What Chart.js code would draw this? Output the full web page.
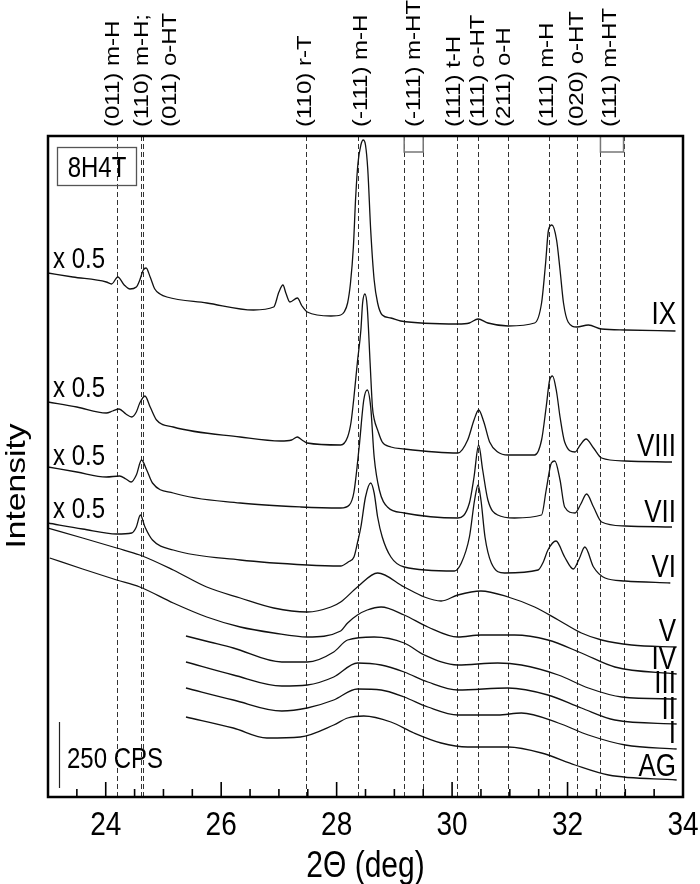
<!DOCTYPE html>
<html><head><meta charset="utf-8">
<script src="https://cdn.jsdelivr.net/npm/chart.js@4.4.0/dist/chart.umd.min.js"></script>
<style>html,body{margin:0;padding:0;background:#fff;}#wrap{width:700px;height:884px;position:relative;}</style>
</head><body><div id="wrap"><canvas id="c"></canvas></div>
<script>
// ---- data (2theta in deg, intensity in arbitrary units, offset traces) ----
const seriesNames = ["IX","VIII","VII","VI","V","IV","III","II","I","AG"];
const sIX = [[23.00,524],[23.43,520],[24.01,515],[24.10,513],[24.21,520],[24.32,512],[24.42,508],[24.53,510],[24.59,517],[24.65,527],[24.70,529],[24.77,520],[24.85,508],[24.94,503],[25.06,500],[25.75,494],[26.56,487],[26.91,490],[27.00,505],[27.07,512],[27.12,504],[27.19,495],[27.32,499],[27.40,491],[27.49,485],[27.90,481],[28.07,482],[28.13,485],[28.19,494],[28.24,514],[28.29,550],[28.33,600],[28.37,634],[28.42,652],[28.46,657],[28.50,652],[28.54,627],[28.59,567],[28.65,517],[28.71,494],[28.79,482],[28.94,479],[29.11,476],[30.10,473],[30.30,474],[30.45,478],[30.62,474],[30.97,471],[31.43,474],[31.55,494],[31.62,534],[31.67,567],[31.73,572],[31.81,557],[31.87,527],[31.93,494],[32.01,475],[32.16,470],[32.36,472],[32.59,468],[33.00,467],[33.87,466]];
const sVIII = [[23.00,395],[23.50,390],[24.01,384],[24.12,386],[24.23,388],[24.35,383],[24.45,380],[24.53,385],[24.59,394],[24.68,401],[24.77,390],[24.88,377],[25.17,370],[26.33,360],[27.03,356],[27.22,357],[27.32,360],[27.40,357],[27.49,354],[28.07,352],[28.19,360],[28.25,375],[28.30,400],[28.36,435],[28.42,467],[28.45,494],[28.49,503],[28.53,490],[28.58,434],[28.62,390],[28.65,378],[28.71,367],[28.79,355],[28.94,350],[29.17,348],[30.10,344],[30.27,357],[30.38,377],[30.46,387],[30.55,375],[30.65,355],[30.79,345],[30.97,342],[31.43,342],[31.55,357],[31.63,390],[31.69,417],[31.74,421],[31.81,405],[31.87,380],[31.95,355],[32.13,345],[32.22,352],[32.32,358],[32.45,349],[32.59,339],[33.00,336],[33.81,335]];
const sVII = [[23.00,330],[23.50,325],[24.01,320],[24.24,321],[24.35,318],[24.44,315],[24.53,322],[24.62,337],[24.71,327],[24.81,314],[25.17,304],[26.33,294],[27.38,290],[28.07,289],[28.22,292],[28.30,305],[28.39,350],[28.47,397],[28.53,407],[28.59,390],[28.65,340],[28.74,307],[28.88,290],[29.17,284],[30.10,279],[30.30,294],[30.38,320],[30.46,352],[30.53,327],[30.62,297],[30.79,282],[31.08,279],[31.55,282],[31.63,307],[31.72,334],[31.78,336],[31.87,317],[31.95,290],[32.13,284],[32.23,293],[32.33,303],[32.45,290],[32.59,275],[33.00,271],[33.81,270]];
const sVI = [[23.00,274],[23.60,268],[24.19,263],[24.45,264],[24.53,270],[24.60,282],[24.68,270],[24.81,257],[25.17,247],[26.33,237],[27.49,232],[28.07,231],[28.20,235],[28.30,240],[28.36,254],[28.42,270],[28.50,300],[28.59,314],[28.65,304],[28.71,280],[28.79,260],[28.94,240],[29.17,230],[30.04,226],[30.16,234],[30.30,260],[30.39,297],[30.45,312],[30.50,297],[30.57,260],[30.68,234],[30.91,224],[31.49,227],[31.58,235],[31.66,247],[31.80,256],[31.95,240],[32.10,228],[32.20,238],[32.30,250],[32.45,230],[32.65,219],[33.00,216],[33.78,214]];
const sV = [[23.00,269],[23.60,259],[24.19,249],[24.59,242],[25.17,227],[25.75,210],[26.33,199],[26.91,189],[27.49,185],[27.90,190],[28.07,195],[28.36,210],[28.71,224],[29.17,210],[29.52,200],[29.81,196],[30.10,202],[30.50,206],[30.97,200],[31.43,190],[31.84,177],[32.24,164],[32.59,157],[33.11,152],[33.89,150]];
const sIV = [[23.03,239],[23.60,228],[24.19,217],[24.59,210],[25.17,194],[25.75,180],[26.33,170],[26.91,164],[27.49,160],[28.07,166],[28.19,174],[28.36,182],[28.53,187],[28.77,190],[29.17,182],[29.58,170],[30.10,160],[30.50,162],[31.08,162],[31.66,157],[32.24,144],[32.82,130],[33.89,123]];
const sIII = [[25.39,161],[25.80,155],[26.21,149],[27.05,135],[27.49,135],[27.95,145],[28.19,157],[28.65,160],[29.17,154],[29.52,142],[30.10,132],[30.79,134],[31.20,132],[31.84,122],[32.36,109],[32.94,100],[33.89,98]];
const sII = [[25.39,135],[26.21,122],[27.05,111],[27.49,112],[27.95,120],[28.36,134],[28.77,132],[29.17,125],[29.58,115],[30.10,107],[30.97,109],[31.66,102],[32.24,89],[32.82,77],[33.89,73]];
const sI = [[25.39,109],[26.21,97],[27.05,86],[27.49,89],[27.95,97],[28.36,108],[28.77,107],[29.17,100],[29.58,90],[30.10,82],[30.79,82],[31.20,84],[31.84,74],[32.36,62],[33.00,52],[33.89,48]];
const sAG = [[25.39,80],[26.21,69],[26.79,59],[27.37,60],[27.95,72],[28.19,79],[28.47,81],[28.94,75],[29.34,64],[29.81,54],[30.27,50],[30.97,50],[31.55,44],[32.13,32],[32.71,22],[33.89,17]];
const seriesData = [sIX,sVIII,sVII,sVI,sV,sIV,sIII,sII,sI,sAG];

const tickValues = [24,26,28,30,32,34];
const minorStep = 0.5;
const refLines = [24.19,24.615,24.638,27.47,28.37,29.17,29.50,30.09,30.45,30.97,31.68,32.16,32.57,32.97];
const refBrackets = [[29.17,29.50],[32.57,32.97]];
const refLabels = ["(011) m-H","(110) m-H;","(011) o-HT","(110) r-T","(-111) m-H","(-111) m-HT","(111) t-H","(111) o-HT","(211) o-H","(111) m-H","(020) o-HT","(111) m-HT"];
const refLabelX = [24.14,24.63,25.13,27.46,28.43,29.34,30.05,30.46,30.91,31.66,32.17,32.75];
const factorLabels = ["x 0.5","x 0.5","x 0.5","x 0.5"];
const sampleText = "8H4T";
const scaleBarText = "250 CPS";
const scaleBarValue = 66;
const xTitle = "2\u0398 (deg)";
const yTitle = "Intensity";

// ---- layout ----
const FONT = '"Liberation Sans", Arial, Helvetica, sans-serif';
const romanY = [315,447,513,568,632,660,684,710,734,767];
const factorY = [268,397,465,518];
const VS = 1.2;

function txt(ctx, s, x, y, size, align, base, rot) {
  ctx.save();
  ctx.translate(x, y);
  if (rot) { ctx.rotate(-Math.PI/2); ctx.scale(VS, 1); } else { ctx.scale(1, VS); }
  ctx.font = size + 'px ' + FONT;
  ctx.textAlign = align; ctx.textBaseline = base; ctx.fillStyle = '#000';
  ctx.fillText(s, 0, 0);
  ctx.restore();
}

const decor = {
  id: 'decor',
  beforeDatasetsDraw(chart) {
    const ctx = chart.ctx, a = chart.chartArea, xs = chart.scales.x;
    ctx.save();
    ctx.strokeStyle = '#333'; ctx.lineWidth = 1; ctx.setLineDash([5,3]);
    refLines.forEach(v => {
      const px = Math.round(xs.getPixelForValue(v)) + 0.5;
      ctx.beginPath(); ctx.moveTo(px, a.top); ctx.lineTo(px, a.bottom); ctx.stroke();
    });
    ctx.setLineDash([]);
    ctx.strokeStyle = '#777'; ctx.lineWidth = 1.5;
    refBrackets.forEach(b => {
      const p1 = xs.getPixelForValue(b[0]), p2 = xs.getPixelForValue(b[1]);
      ctx.beginPath(); ctx.moveTo(p1, a.top); ctx.lineTo(p1, a.top + 16); ctx.lineTo(p2, a.top + 16); ctx.lineTo(p2, a.top); ctx.stroke();
    });
    ctx.restore();
  },
  afterDraw(chart) {
    const ctx = chart.ctx, a = chart.chartArea, xs = chart.scales.x, ys = chart.scales.y;
    ctx.save();
    // frame
    ctx.strokeStyle = '#000'; ctx.lineWidth = 2.5;
    ctx.strokeRect(a.left, a.top, a.right - a.left, a.bottom - a.top);
    // ticks
    ctx.lineWidth = 1.6;
    for (let v = xs.min + minorStep; v < xs.max; v += minorStep) {
      const px = xs.getPixelForValue(v);
      const major = tickValues.indexOf(Math.round(v * 10) / 10) >= 0;
      ctx.beginPath(); ctx.moveTo(px, a.bottom); ctx.lineTo(px, a.bottom - (major ? 15 : 8)); ctx.stroke();
    }
    tickValues.forEach(v => txt(ctx, String(v), xs.getPixelForValue(v), 835, 28, 'center', 'alphabetic', false));
    // titles
    txt(ctx, xTitle, (a.left + a.right) / 2, 877, 30, 'center', 'alphabetic', false);
    txt(ctx, yTitle, 17, 486, 28, 'center', 'middle', true);
    // reflection labels
    refLabels.forEach((s, i) => txt(ctx, s, xs.getPixelForValue(refLabelX[i]), 127, 20, 'left', 'middle', true));
    // sample box
    ctx.strokeStyle = '#555'; ctx.lineWidth = 1.3;
    ctx.strokeRect(57.5, 147.5, 79, 38);
    txt(ctx, sampleText, 97, 177, 24, 'center', 'alphabetic', false);
    // factor labels
    factorLabels.forEach((s, i) => txt(ctx, s, 53, factorY[i], 24, 'left', 'alphabetic', false));
    // series labels
    seriesNames.forEach((s, i) => txt(ctx, s, 676, romanY[i], 26, 'right', 'middle', false));
    // scale bar
    const bx = 59.5;
    ctx.strokeStyle = '#222'; ctx.lineWidth = 1.2;
    ctx.beginPath(); ctx.moveTo(bx, ys.getPixelForValue(9)); ctx.lineTo(bx, ys.getPixelForValue(9 + scaleBarValue)); ctx.stroke();
    txt(ctx, scaleBarText, 67, 768, 24, 'left', 'alphabetic', false);
    ctx.restore();
  }
};

new Chart(document.getElementById('c'), {
  type: 'line',
  data: {
    datasets: seriesData.map((d, i) => ({
      label: seriesNames[i],
      data: d.map(p => ({x: p[0], y: p[1]})),
      borderColor: '#111', borderWidth: 1.3, pointRadius: 0, fill: false,
      cubicInterpolationMode: 'monotone'
    }))
  },
  options: {
    responsive: true, maintainAspectRatio: false, animation: false,
    layout: { padding: { left: 48, right: 17, top: 136, bottom: 87 } },
    plugins: { legend: { display: false }, tooltip: { enabled: false } },
    scales: {
      x: { type: 'linear', min: 23, max: 34, display: false },
      y: { type: 'linear', min: 0, max: 661, display: false }
    }
  },
  plugins: [decor]
});
</script></body></html>
